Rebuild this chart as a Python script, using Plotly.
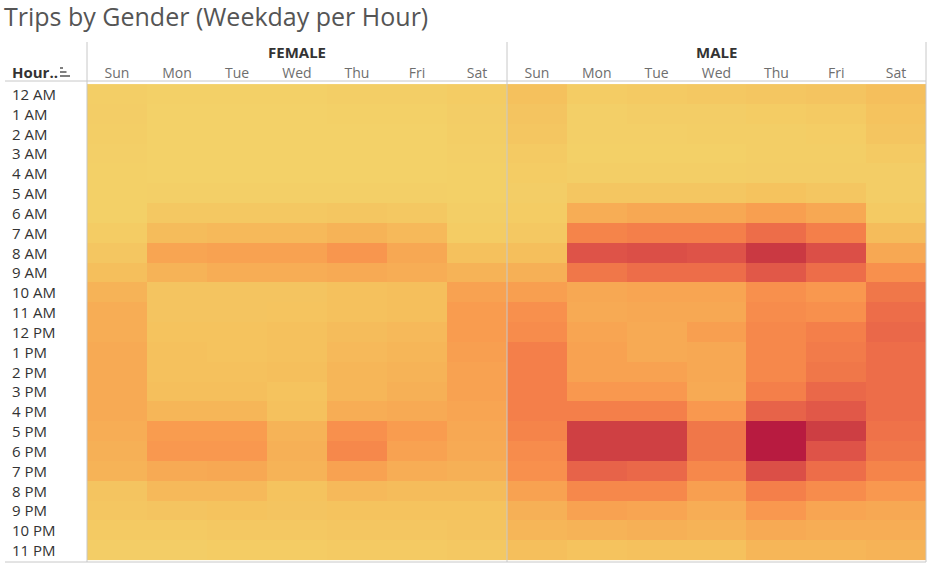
import plotly.graph_objects as go

hours = ["12 AM", "1 AM", "2 AM", "3 AM", "4 AM", "5 AM", "6 AM", "7 AM", "8 AM", "9 AM",
         "10 AM", "11 AM", "12 PM", "1 PM", "2 PM", "3 PM", "4 PM", "5 PM", "6 PM", "7 PM",
         "8 PM", "9 PM", "10 PM", "11 PM"]
days = ["Sun", "Mon", "Tue", "Wed", "Thu", "Fri", "Sat"]

# Estimated relative trip counts (rows = hours, columns = Sun..Sat)
female_trips = [
    [3, 1, 1, 1, 3, 3, 6],
    [4, 0, 0, 0, 1, 1, 4],
    [3, 0, 0, 0, 0, 0, 3],
    [2, 0, 0, 0, 0, 0, 2],
    [1, 0, 0, 0, 0, 0, 1],
    [1, 2, 2, 2, 2, 2, 1],
    [1, 10, 10, 10, 12, 10, 3],
    [6, 22, 24, 24, 28, 24, 6],
    [12, 38, 40, 40, 47, 36, 18],
    [20, 28, 32, 32, 34, 32, 28],
    [28, 14, 14, 14, 18, 20, 40],
    [32, 14, 14, 15, 18, 20, 44],
    [32, 16, 16, 18, 22, 24, 44],
    [34, 18, 16, 18, 24, 26, 42],
    [34, 18, 18, 20, 26, 28, 40],
    [34, 20, 20, 16, 26, 30, 40],
    [34, 26, 26, 18, 32, 34, 38],
    [32, 44, 44, 28, 50, 44, 36],
    [30, 46, 46, 30, 54, 40, 34],
    [28, 34, 36, 28, 40, 32, 30],
    [14, 24, 24, 16, 24, 22, 22],
    [12, 14, 16, 14, 16, 16, 16],
    [8, 8, 10, 10, 12, 12, 14],
    [4, 4, 6, 6, 8, 8, 10],
]
male_trips = [
    [18, 6, 8, 10, 12, 14, 20],
    [14, 2, 4, 4, 6, 8, 16],
    [12, 2, 2, 3, 3, 5, 13],
    [8, 1, 1, 1, 3, 3, 8],
    [6, 3, 3, 3, 4, 4, 4],
    [4, 12, 12, 12, 16, 12, 4],
    [6, 32, 36, 36, 42, 36, 8],
    [10, 56, 58, 58, 66, 58, 22],
    [20, 76, 78, 76, 88, 78, 36],
    [30, 62, 66, 66, 74, 66, 50],
    [42, 36, 38, 38, 50, 46, 62],
    [50, 34, 36, 36, 52, 50, 66],
    [52, 38, 34, 42, 54, 58, 68],
    [58, 40, 34, 36, 54, 60, 66],
    [58, 40, 40, 36, 54, 62, 66],
    [58, 46, 46, 34, 58, 68, 66],
    [58, 58, 58, 46, 70, 74, 66],
    [56, 85, 85, 62, 100, 86, 64],
    [52, 85, 85, 62, 100, 76, 62],
    [50, 70, 68, 54, 78, 66, 56],
    [40, 54, 54, 42, 58, 52, 46],
    [30, 40, 38, 32, 46, 38, 36],
    [26, 28, 30, 28, 34, 32, 32],
    [20, 16, 18, 18, 26, 26, 28],
]

colorscale = [
    [0.0, "#f3d168"], [0.2, "#f5bf5c"], [0.35, "#f7a953"], [0.45, "#f99a4f"],
    [0.55, "#f6864a"], [0.65, "#ee7049"], [0.75, "#e05548"], [0.85, "#cf4043"],
    [1.0, "#b81b40"],
]

fig = go.Figure()
fig.add_trace(go.Heatmap(z=female_trips, x=days, y=hours, coloraxis="coloraxis",
                         xaxis="x", yaxis="y", name="FEMALE"))
fig.add_trace(go.Heatmap(z=male_trips, x=days, y=hours, coloraxis="coloraxis",
                         xaxis="x2", yaxis="y", name="MALE"))

W, H = 929, 565
L, R, T, B = 87, 3, 82, 3
pw, ph = W - L - R, H - T - B

def px(x):
    return (x - L) / pw

def py(y):
    return 1 - (y - T) / ph

split = px(507)
FONT = "Open Sans, Lato, sans-serif"
tickfont = dict(family=FONT, size=14, color="#6e6e6e")

fig.update_layout(
    width=W, height=H,
    margin=dict(l=L, r=R, t=T, b=B),
    paper_bgcolor="white", plot_bgcolor="white",
    coloraxis=dict(colorscale=colorscale, cmin=0, cmax=100, showscale=False),
    xaxis=dict(domain=[0, split], side="top", showgrid=False, zeroline=False,
               ticks="", tickfont=tickfont, fixedrange=True),
    xaxis2=dict(domain=[split, 1], side="top", showgrid=False, zeroline=False,
                ticks="", tickfont=tickfont, anchor="y", fixedrange=True),
    yaxis=dict(autorange="reversed", showticklabels=False, showgrid=False,
               zeroline=False, ticks="", fixedrange=True),
    title=dict(text="Trips by Gender (Weekday per Hour)", x=4 / W, xref="container",
               xanchor="left", y=1 - 17 / H, yref="container", yanchor="middle",
               font=dict(family=FONT, size=25, color="#555555")),
    showlegend=False,
)

annotations = []
hdr_font = dict(family=FONT, size=15, color="#333333")
annotations.append(dict(text="<b>FEMALE</b>", x=0.5, xref="x domain", y=py(52), yref="paper",
                        showarrow=False, font=hdr_font, xanchor="center", yanchor="middle"))
annotations.append(dict(text="<b>MALE</b>", x=0.5, xref="x2 domain", y=py(52), yref="paper",
                        showarrow=False, font=hdr_font, xanchor="center", yanchor="middle"))
annotations.append(dict(text="<b>Hour..</b>", x=px(10), xref="paper", y=py(72), yref="paper",
                        showarrow=False, font=hdr_font, xanchor="left", yanchor="middle"))
row_font = dict(family=FONT, size=15, color="#333333")
for h in hours:
    annotations.append(dict(text=h, x=px(10), xref="paper", y=h, yref="y",
                            showarrow=False, font=row_font, xanchor="left", yanchor="middle"))
fig.update_layout(annotations=annotations)

line = dict(color="#c8c8c8", width=1)
shapes = [
    dict(type="line", xref="paper", yref="paper", x0=px(5), x1=1, y0=py(81), y1=py(81), line=line),
    dict(type="line", xref="paper", yref="paper", x0=px(5), x1=1, y0=py(562), y1=py(562), line=line),
    dict(type="line", xref="paper", yref="paper", x0=px(87), x1=px(87), y0=py(42), y1=py(562), line=line),
    dict(type="line", xref="paper", yref="paper", x0=split, x1=split, y0=py(42), y1=py(562), line=line),
    dict(type="line", xref="paper", yref="paper", x0=px(926), x1=px(926), y0=py(42), y1=py(562), line=line),
]
# sort icon next to "Hour.."
icon = dict(color="#555555", width=1.5)
for yy, x2 in [(68, 63), (72, 66.5), (76, 70)]:
    shapes.append(dict(type="line", xref="paper", yref="paper", x0=px(60), x1=px(x2),
                       y0=py(yy), y1=py(yy), line=icon))
fig.update_layout(shapes=shapes)

fig.write_html("out.html", config={"displayModeBar": False},
               post_script="document.body.style.margin='0';document.body.style.overflow='hidden';")
